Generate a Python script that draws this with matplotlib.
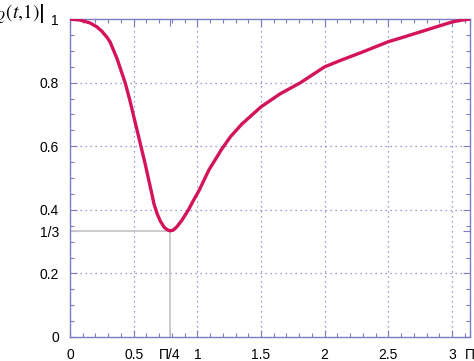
import numpy as np
import matplotlib.pyplot as plt
from matplotlib.ticker import MultipleLocator

plt.rcParams['font.family'] = ['Liberation Sans', 'DejaVu Sans']
plt.rcParams['mathtext.fontset'] = 'stix'

# curve
t = [0.0, 0.08, 0.157, 0.21, 0.25, 0.29, 0.315, 0.37, 0.433, 0.47, 0.498, 0.53, 0.56,
     0.59, 0.615, 0.64, 0.66, 0.685, 0.71, 0.74, 0.765, 0.785, 0.81, 0.84,
     0.88, 0.93, 0.97, 1.015, 1.09, 1.19, 1.26, 1.35, 1.5, 1.65, 1.81, 2.0,
     2.13, 2.3, 2.5, 2.6, 2.8, 3.0, 3.08, 3.1416]
F = [1.0, 0.997, 0.988, 0.976, 0.962, 0.943, 0.928, 0.875, 0.80, 0.745, 0.698, 0.645, 0.595,
     0.545, 0.5, 0.455, 0.418, 0.387, 0.364, 0.345, 0.337, 0.334, 0.336, 0.347,
     0.368, 0.40, 0.43, 0.462, 0.525, 0.59, 0.63, 0.67, 0.724, 0.765, 0.80, 0.85,
     0.871, 0.897, 0.929, 0.941, 0.966, 0.991, 0.997, 1.0]

xticks = [0, 0.5, np.pi / 4, 1, 1.5, 2, 2.5, 3, np.pi]
xlabels = ['0', '0.5', 'Π/4', '1', '1.5', '2', '2.5', '3', 'Π']
yticks = [0, 0.2, 1 / 3, 0.4, 0.6, 0.8, 1]
ylabels = ['0', '0.2', '1/3', '0.4', '0.6', '0.8', '1']
xgrid = [0.5, 1, 1.5, 2, 2.5, 3]
ygrid = [0.2, 0.4, 0.6, 0.8]

frame = '#7b7bc8'

fig = plt.figure(figsize=(4.74, 3.61), dpi=100)
ax = fig.add_axes([0.1477, 0.0665, 0.8439, 0.8805])

for g in xgrid:
    ax.axvline(g, color=frame, lw=0.9, ls=(0, (1, 3)), zorder=1)
for g in ygrid:
    ax.axhline(g, color=frame, lw=0.9, ls=(0, (1, 3)), zorder=1)

ax.plot([0, np.pi / 4], [1 / 3, 1 / 3], color='#c8c8c8', lw=1.3, zorder=2)
ax.plot([np.pi / 4, np.pi / 4], [0, 1 / 3], color='#c8c8c8', lw=1.3, zorder=2)

ax.plot(t, F, color='#d4145a', lw=2.4, solid_capstyle='round', zorder=3)

ax.set_xlim(0, np.pi)
ax.set_ylim(0, 1)
ax.set_xticks(xticks)
ax.set_xticklabels(xlabels)
ax.set_yticks(yticks)
ax.set_yticklabels(ylabels)
ax.xaxis.set_minor_locator(MultipleLocator(0.1))
ax.yaxis.set_minor_locator(MultipleLocator(0.05))
ax.tick_params(which='both', direction='in', top=True, right=True,
               color=frame, labelsize=10, labelcolor='black')
ax.tick_params(which='major', length=5, width=0.8)
ax.tick_params(which='minor', length=3, width=0.8)
ax.tick_params(axis='x', pad=8)
ax.tick_params(axis='y', pad=8)
for s in ax.spines.values():
    s.set_color(frame)
    s.set_linewidth(1.0)

fig.text(45 / 474, 1 - 14 / 361, r'$\left|\mathcal{F}_Q(t{,}1)\right|$',
         ha='right', va='center', fontsize=14)

fig.savefig('out.png', dpi=100)
